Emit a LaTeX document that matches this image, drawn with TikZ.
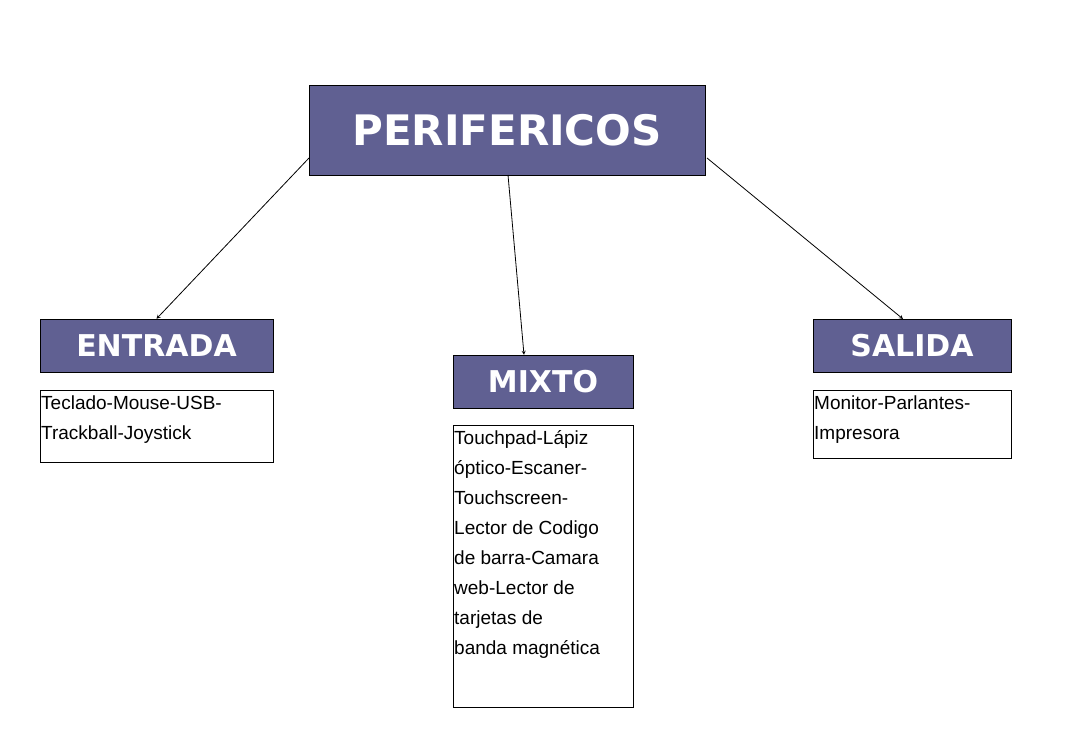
\documentclass[tikz,border=0pt]{standalone}
\usepackage{fontspec}
\setmainfont{DejaVu Sans}
\newfontfamily\bodyfont{Liberation Sans}
\begin{document}
\begin{tikzpicture}[x=1pt,y=-1pt,
  head/.style={draw=black,fill={rgb,255:red,96;green,96;blue,146},text=white,font=\bfseries,inner sep=0pt},
  txt/.style={draw=black,fill=white,inner sep=0pt},
  lbl/.style={anchor=north west,align=left,font=\bodyfont\fontsize{19}{30}\selectfont,inner sep=0pt},
  arr/.style={-stealth,black,line width=0.8pt}]
\useasboundingbox (0,0) rectangle (1075,735);
\fill[white] (0,0) rectangle (1075,735);
\node[head,minimum width=396pt,minimum height=90pt,font=\bfseries\fontsize{42}{46}\selectfont] (top) at (507,130) {PERIFERICOS};
\node[head,minimum width=233pt,minimum height=53pt,font=\bfseries\fontsize{30}{34}\selectfont] (ent) at (156.5,345.5) {ENTRADA};
\node[head,minimum width=180pt,minimum height=53pt,font=\bfseries\fontsize{30}{34}\selectfont] (mix) at (543,381.5) {MIXTO};
\node[head,minimum width=198pt,minimum height=53pt,font=\bfseries\fontsize{30}{34}\selectfont] (sal) at (912,345.5) {SALIDA};
\node[txt,minimum width=233pt,minimum height=72pt] (tent) at (156.5,426) {};
\node[txt,minimum width=180pt,minimum height=282pt] (tmix) at (543,566) {};
\node[txt,minimum width=198pt,minimum height=68pt] (tsal) at (912,424) {};
\node[lbl] (lent) at (41,396) {Teclado-Mouse-USB-\\Trackball-Joystick};
\node[lbl] (lmix) at (454,430) {Touchpad-Lápiz\\óptico-Escaner-\\Touchscreen-\\Lector de Codigo\\de barra-Camara\\web-Lector de\\tarjetas de\\banda magnética};
\node[lbl] (lsal) at (814,396) {Monitor-Parlantes-\\Impresora};
\coordinate (a1) at (309,158);
\coordinate (a2) at (508,175);
\coordinate (a3) at (707,158);
\draw[arr] (a1) -- (ent.north);
\draw[arr] (a2) -- (mix.north -| 524,0);
\draw[arr] (a3) -- (903,319);
\end{tikzpicture}
\end{document}
